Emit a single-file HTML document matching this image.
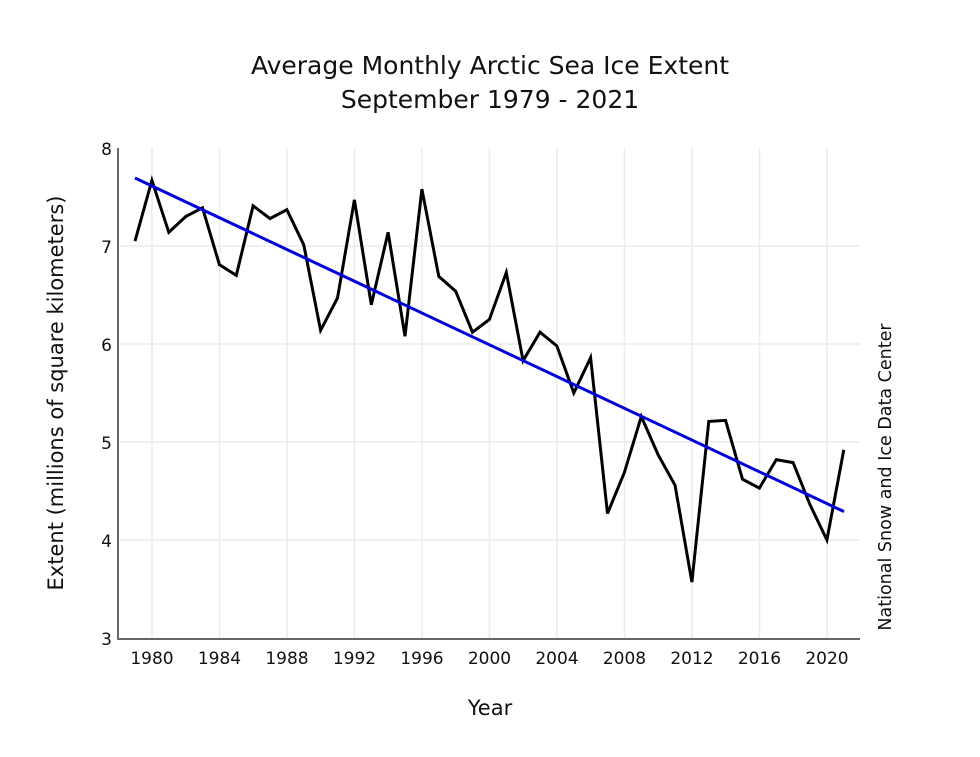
<!DOCTYPE html>
<html><head><meta charset="utf-8"><style>
html,body{margin:0;padding:0;background:#fff;}
svg{display:block;font-family:"DejaVu Sans","Liberation Sans",sans-serif;}
</style></head><body>
<svg width="980" height="757" viewBox="0 0 980 757" xmlns="http://www.w3.org/2000/svg">
<rect width="980" height="757" fill="#fff"/>
<text x="490" y="74" font-size="25" text-anchor="middle" fill="#111">Average Monthly Arctic Sea Ice Extent</text>
<text x="490" y="108" font-size="25" text-anchor="middle" fill="#111">September 1979 - 2021</text>
<g stroke="#ececec" stroke-width="1.5">
<line x1="118" y1="246" x2="860" y2="246"/><line x1="118" y1="344" x2="860" y2="344"/>
<line x1="118" y1="442" x2="860" y2="442"/><line x1="118" y1="540" x2="860" y2="540"/>
<line x1="152" y1="148" x2="152" y2="638"/><line x1="219.5" y1="148" x2="219.5" y2="638"/>
<line x1="287" y1="148" x2="287" y2="638"/><line x1="354.5" y1="148" x2="354.5" y2="638"/>
<line x1="422" y1="148" x2="422" y2="638"/><line x1="489.5" y1="148" x2="489.5" y2="638"/>
<line x1="557" y1="148" x2="557" y2="638"/><line x1="624.5" y1="148" x2="624.5" y2="638"/>
<line x1="692" y1="148" x2="692" y2="638"/><line x1="759.5" y1="148" x2="759.5" y2="638"/>
<line x1="827" y1="148" x2="827" y2="638"/>
</g>
<polyline fill="none" stroke="#666" stroke-width="2" points="118,148 118,639 860,639"/>
<g font-size="17" fill="#111" text-anchor="end">
<text x="112" y="155">8</text><text x="112" y="253">7</text><text x="112" y="351">6</text>
<text x="112" y="449">5</text><text x="112" y="547">4</text><text x="112" y="645">3</text>
</g>
<g font-size="17" fill="#111" text-anchor="middle">
<text x="152" y="664">1980</text><text x="219.5" y="664">1984</text><text x="287" y="664">1988</text>
<text x="354.5" y="664">1992</text><text x="422" y="664">1996</text><text x="489.5" y="664">2000</text>
<text x="557" y="664">2004</text><text x="624.5" y="664">2008</text><text x="692" y="664">2012</text>
<text x="759.5" y="664">2016</text><text x="827" y="664">2020</text>
</g>
<text x="490" y="715" font-size="21" text-anchor="middle" fill="#111">Year</text>
<text transform="translate(63,393) rotate(-90)" font-size="21" text-anchor="middle" fill="#111">Extent (millions of square kilometers)</text>
<text transform="translate(891,477) rotate(-90)" font-size="17.5" text-anchor="middle" fill="#111">National Snow and Ice Data Center</text>
<polyline fill="none" stroke="#000" stroke-width="3" stroke-linejoin="miter" points="135,241.1 151.9,180.3 168.8,232.3 185.6,216.6 202.5,207.8 219.4,264.6 236.3,275.4 253.1,205.8 270,218.6 286.9,209.7 303.8,245 320.6,330.3 337.5,298 354.4,199.9 371.3,304.8 388.1,232.3 405,336.2 421.9,189.2 438.8,276.4 455.6,291.1 472.5,332.2 489.4,319.5 506.3,272.5 523.1,360.7 540,332.2 556.9,346 573.8,393 590.6,357.7 607.5,513.5 624.4,472.4 641.3,416.5 658.1,454.7 675,485.1 691.9,582.1 708.8,421.4 725.6,420.4 742.5,479.2 759.4,488.1 776.3,459.6 793.1,462.6 810,504.7 826.9,540 843.8,449.8"/>
<line x1="135" y1="178" x2="844" y2="511.6" stroke="#0000dd" stroke-width="3"/>
</svg>
</body></html>
